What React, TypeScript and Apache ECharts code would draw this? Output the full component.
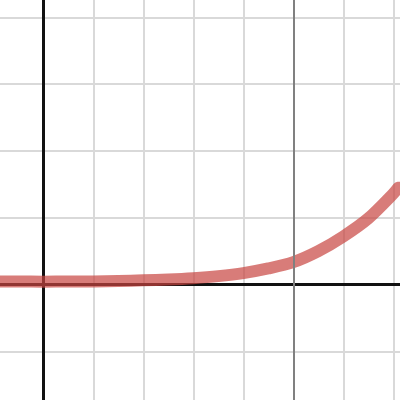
import { useEffect, useRef } from "react"
import * as echarts from "echarts"

// curve samples (x, y in graph units)
const xValues = [-0.866, -0.5, 0, 0.5, 1, 1.5, 2, 2.5, 3, 3.5, 4, 4.5, 5, 5.5, 6, 6.5, 7, 7.1]
const yValues = [0.045, 0.044, 0.043, 0.044, 0.046, 0.052, 0.062, 0.075, 0.095, 0.125, 0.17, 0.24, 0.335, 0.5, 0.72, 0.99, 1.36, 1.45]

// visible window of the graph paper
const xRange = [-0.866, 7.134]
const yRange = [-1.729, 4.259]
// darker major grid line
const majorX = [5]

export default function App() {
  const chartRef = useRef<HTMLDivElement>(null)

  useEffect(() => {
    if (!chartRef.current) return
    const chart = echarts.init(chartRef.current, null, { renderer: "svg" })

    const gridLine = {
      show: true,
      showMinLine: false,
      showMaxLine: false,
      lineStyle: { color: "#d9d9d9", width: 2 }
    }
    const axisLine = {
      show: true,
      onZero: true,
      lineStyle: { color: "#111111", width: 3 }
    }

    chart.setOption({
      animation: false,
      backgroundColor: "#ffffff",
      grid: { left: 0, right: 0, top: 0, bottom: 0, containLabel: false },
      xAxis: {
        type: "value",
        min: xRange[0],
        max: xRange[1],
        minInterval: 1,
        maxInterval: 1,
        axisLine,
        axisTick: { show: false },
        axisLabel: { show: false },
        splitLine: gridLine
      },
      yAxis: {
        type: "value",
        min: yRange[0],
        max: yRange[1],
        minInterval: 1,
        maxInterval: 1,
        axisLine,
        axisTick: { show: false },
        axisLabel: { show: false },
        splitLine: gridLine
      },
      series: [
        {
          type: "line",
          data: xValues.map((x, i) => [x, yValues[i]]),
          smooth: 0.3,
          showSymbol: false,
          clip: false,
          lineStyle: { color: "rgba(199, 68, 64, 0.7)", width: 12, cap: "round", join: "round" },
          markLine: {
            silent: true,
            symbol: "none",
            label: { show: false },
            lineStyle: { color: "#808080", width: 2, type: "solid" },
            data: majorX.map(x => ({ xAxis: x }))
          }
        }
      ]
    })

    return () => {
      chart.dispose()
    }
  }, [])

  return (
    <div
      ref={chartRef}
      style={{ position: "absolute", left: 0, top: 0, width: 400, height: 400 }}
    />
  )
}
